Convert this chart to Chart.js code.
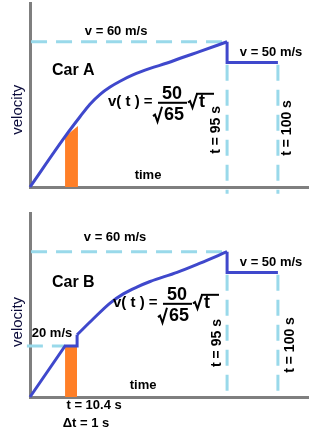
<!DOCTYPE html>
<html>
<head>
<meta charset="utf-8">
<script src="https://cdn.jsdelivr.net/npm/chart.js@4/dist/chart.umd.min.js"></script>
<style>
  html, body { margin: 0; padding: 0; background: #fff; }
  #wrapA { position: absolute; left: 0; top: 0; width: 324px; height: 200px; }
  #wrapB { position: absolute; left: 0; top: 200px; width: 324px; height: 243px; }
</style>
</head>
<body>
<div id="wrapA"><canvas id="carA" width="324" height="200"></canvas></div>
<div id="wrapB"><canvas id="carB" width="324" height="243"></canvas></div>
<script>
// values (time in s along the drawn axis, velocity in m/s)
const carACurveT = [0, 16.9, 24.1, 28.9, 33.8, 38.6, 43.4, 49.6, 57.9, 66.1, 73.8, 82, 95];
const carACurveV = [0, 20.8, 29.0, 34.2, 38.3, 41.3, 43.7, 46.3, 49.0, 51.2, 53.6, 56.0, 60];
const carABarT = [16.9, 23.1];
const carABarV = [20.8, 25.2];

const carBRampT = [0, 16.9, 22.7, 22.7];
const carBRampV = [0, 21.1, 21.1, 25.7];
const carBCurveT = [22.7, 30.4, 38.6, 45, 51.5, 57.9, 70.9, 82, 95];
const carBCurveV = [25.7, 32.2, 38.8, 42.6, 45.4, 47.7, 51.5, 55.3, 60];
const carBBarT = [16.9, 22.7];
const carBBarV = [21.1, 21.1];

const stepT = [95, 95, 119.5];
const stepV = [60, 51.4, 51.4];
const topSpeed = 60;
const endSpeed = 50;
const markerTimes = [95, 119.5];
const rampSpeed = 21.1;

const BLUE = '#3f48cc', LIGHT = '#99d9ea', ORANGE = '#ff7f27', GRAY = '#7f7f7f';
const FONT = '"Liberation Sans", Arial, sans-serif';

function pts(ts, vs) {
  return ts.map((t, i) => ({ x: t, y: vs[i] }));
}

function dashed(ts, vs) {
  return {
    data: pts(ts, vs), borderColor: LIGHT, borderWidth: 3, borderDash: [16, 9],
    pointRadius: 0, tension: 0, clip: false, borderCapStyle: 'butt'
  };
}

function solid(ts, vs, smooth) {
  return {
    data: pts(ts, vs), borderColor: BLUE, borderWidth: 3, pointRadius: 0,
    tension: 0, cubicInterpolationMode: smooth ? 'monotone' : 'default',
    borderJoinStyle: 'miter', clip: false
  };
}

function orange(ts, vs) {
  return {
    data: pts(ts, vs), borderColor: ORANGE, borderWidth: 0, pointRadius: 0,
    backgroundColor: ORANGE, fill: 'origin', tension: 0
  };
}

// radical sign drawn by hand, the font glyph is too small
function radical(ctx, x0, y0, w, h) {
  ctx.beginPath();
  ctx.moveTo(x0, y0 + h * 0.62);
  ctx.lineTo(x0 + 2, y0 + h * 0.52);
  ctx.lineTo(x0 + w * 0.5, y0 + h);
  ctx.lineTo(x0 + w, y0);
  ctx.stroke();
}

function drawFormula(ctx, ax, ay) {
  ctx.fillStyle = '#000';
  ctx.strokeStyle = '#000';
  ctx.lineWidth = 2;
  ctx.lineJoin = 'miter';
  ctx.textBaseline = 'middle';
  ctx.textAlign = 'left';
  ctx.font = 'bold 15px ' + FONT;
  ctx.fillText('v( t ) =', ax, ay);
  ctx.textAlign = 'center';
  ctx.font = 'bold 18px ' + FONT;
  ctx.fillText('50', ax + 64, ay - 8);
  ctx.fillRect(ax + 50, ay, 29, 2);
  ctx.fillText('65', ax + 66, ay + 13);
  radical(ctx, ax + 45, ay + 5, 9, 15);
  radical(ctx, ax + 80, ay - 8, 9, 14);
  ctx.fillRect(ax + 88, ay - 9, 18, 2);
  ctx.textAlign = 'left';
  ctx.fillText('t', ax + 91, ay);
}

function notes(items, formula) {
  return {
    id: 'notes',
    afterDraw(chart) {
      const { ctx, scales: { x, y } } = chart;
      items.forEach(it => {
        ctx.save();
        ctx.translate(x.getPixelForValue(it.t), y.getPixelForValue(it.v));
        if (it.rot) ctx.rotate(-Math.PI / 2);
        ctx.font = it.font;
        ctx.fillStyle = it.color || '#000';
        ctx.textAlign = it.align || 'center';
        ctx.textBaseline = 'middle';
        ctx.fillText(it.text, 0, 0);
        ctx.restore();
      });
      ctx.save();
      drawFormula(ctx, x.getPixelForValue(formula.t), y.getPixelForValue(formula.v));
      ctx.restore();
    }
  };
}

function options(pad) {
  const axis = {
    type: 'linear', ticks: { display: false },
    grid: { display: false, drawTicks: false },
    border: { display: true, color: GRAY, width: 3 }
  };
  return {
    responsive: false, animation: false,
    layout: { padding: pad },
    plugins: { legend: { display: false }, tooltip: { enabled: false } },
    scales: {
      x: Object.assign({}, axis, { min: 0, max: 134 }),
      y: Object.assign({}, axis, { min: 0, max: 76 })
    }
  };
}

const B13 = 'bold 13px ' + FONT, B14 = 'bold 14px ' + FONT, B16 = 'bold 16px ' + FONT;
const VEL = '15px ' + FONT;

// Car A
new Chart(document.getElementById('carA'), {
  type: 'line',
  data: {
    datasets: [
      solid(carACurveT, carACurveV, true),
      solid(stepT, stepV, false),
      dashed([0.5, 95], [topSpeed, topSpeed]),
      dashed([markerTimes[0], markerTimes[0]], [50.5, -2.8]),
      dashed([markerTimes[1], markerTimes[1]], [50.5, -2.8]),
      orange(carABarT, carABarV)
    ]
  },
  options: options({ left: 30, right: 16, top: 3, bottom: 13 }),
  plugins: [notes([
    { text: 'v = 60 m/s', t: 41.5, v: 64.1, font: B13 },
    { text: 'v = ' + endSpeed + ' m/s', t: 116.2, v: 55.4, font: B13 },
    { text: 'Car A', t: 10.6, v: 48.0, font: B16, align: 'left' },
    { text: 'velocity', t: -5.8, v: 31.9, font: VEL, rot: true, color: '#0a0a3a' },
    { text: 'time', t: 56.9, v: 4.6, font: B13 },
    { text: 't = 95 s', t: 89.7, v: 23.6, font: B14, rot: true },
    { text: 't = 100 s', t: 123.9, v: 24.4, font: B14, rot: true }
  ], { t: 37.6, v: 35.2 })]
});

// Car B
new Chart(document.getElementById('carB'), {
  type: 'line',
  data: {
    datasets: [
      solid(carBRampT, carBRampV, false),
      solid(carBCurveT, carBCurveV, true),
      solid(stepT, stepV, false),
      dashed([0.5, 95], [topSpeed, topSpeed]),
      dashed([-1.5, 16.9], [rampSpeed, rampSpeed]),
      dashed([markerTimes[0], markerTimes[0]], [50.5, 0]),
      dashed([markerTimes[1], markerTimes[1]], [50.5, 0]),
      orange(carBBarT, carBBarV)
    ]
  },
  options: options({ left: 30, right: 16, top: 13, bottom: 46 }),
  plugins: [notes([
    { text: 'v = 60 m/s', t: 41.0, v: 65.8, font: B13 },
    { text: 'v = ' + endSpeed + ' m/s', t: 116.2, v: 55.4, font: B13 },
    { text: 'Car B', t: 10.6, v: 47.2, font: B16, align: 'left' },
    { text: 'velocity', t: -5.8, v: 31.0, font: VEL, rot: true, color: '#0a0a3a' },
    { text: '20 m/s', t: 10.6, v: 26.1, font: B13 },
    { text: 'time', t: 54.5, v: 4.6, font: B13 },
    { text: 't = 95 s', t: 90.2, v: 22.3, font: B14, rot: true },
    { text: 't = 100 s', t: 125.4, v: 21.5, font: B14, rot: true },
    { text: 't = 10.4 s', t: 30.9, v: -3.3, font: B13 },
    { text: '\u0394t = 1 s', t: 27.0, v: -10.8, font: B13 }
  ], { t: 40.0, v: 38.9 })]
});
</script>
</body>
</html>
